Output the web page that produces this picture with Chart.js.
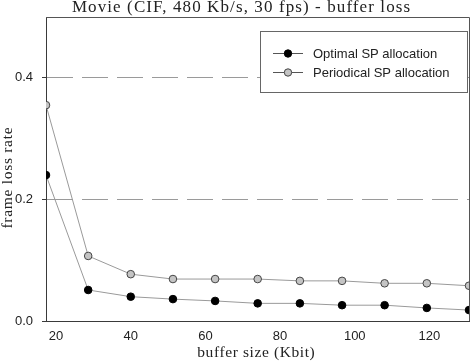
<!DOCTYPE html>
<html>
<head>
<meta charset="utf-8">
<script src="https://cdn.jsdelivr.net/npm/chart.js@4.4.1/dist/chart.umd.min.js"></script>
<style>
  html, body { margin: 0; padding: 0; background: #fff; }
  #wrap { width: 474px; height: 363px; }
</style>
</head>
<body>
<div id="wrap"><canvas id="c"></canvas></div>
<script>
(function(){
  // values
  const bufferSize = [17.3, 28.6, 40, 51.3, 62.6, 74, 85.3, 96.6, 108, 119.3, 130.6];
  const optimal    = [0.240, 0.051, 0.040, 0.036, 0.033, 0.029, 0.029, 0.026, 0.026, 0.0215, 0.018];
  const periodical = [0.355, 0.107, 0.077, 0.069, 0.069, 0.069, 0.066, 0.066, 0.062, 0.062, 0.058];
  const xTicks = [20, 40, 60, 80, 100, 120];
  const yTicks = [0, 0.2, 0.4];

  const chartTitle = 'Movie (CIF, 480 Kb/s, 30 fps) - buffer loss';
  const xTitle = 'buffer size (Kbit)';
  const yTitle = 'frame loss rate';

  const cAxis = '#3a3a3a';
  const cLine = '#9a9a9a';
  const cText = '#222';
  const serif = '"Liberation Serif", "DejaVu Serif", serif';
  const sans  = '"Liberation Sans", Arial, sans-serif';

  const toXY = (ys) => ys.map((y, i) => ({ x: bufferSize[i], y }));

  // spaced-out serif titles, like the original figure
  function spaced(ctx, text, x, y, size, spacing) {
    ctx.font = size + 'px ' + serif;
    ctx.letterSpacing = spacing + 'px';
    const w = ctx.measureText(text).width - spacing;
    ctx.textAlign = 'left';
    ctx.textBaseline = 'middle';
    ctx.fillText(text, x - w / 2, y);
  }

  const titles = {
    id: 'titles',
    afterDraw(chart) {
      const { ctx } = chart;
      ctx.save();
      ctx.fillStyle = cText;
      spaced(ctx, chartTitle, 241, 7.5, 17, 1.1);
      spaced(ctx, xTitle, 256, 353, 15.5, 0.6);
      ctx.translate(8, 178);
      ctx.rotate(-Math.PI / 2);
      spaced(ctx, yTitle, 0, 0, 15.5, 0.7);
      ctx.restore();
    }
  };

  // full box round the plot
  const frame = {
    id: 'frame',
    afterDraw(chart) {
      const { ctx, chartArea: a } = chart;
      ctx.save();
      ctx.strokeStyle = '#555';
      ctx.lineWidth = 1;
      ctx.beginPath();
      ctx.moveTo(a.left, a.top + 0.5);
      ctx.lineTo(a.right + 0.5, a.top + 0.5);
      ctx.lineTo(a.right + 0.5, a.bottom);
      ctx.stroke();
      ctx.restore();
    }
  };

  // boxed legend inside the plot
  const boxLegend = {
    id: 'boxLegend',
    afterDraw(chart) {
      const { ctx } = chart;
      const x0 = 260.5, y0 = 31.5, w = 207, h = 61;
      ctx.save();
      ctx.fillStyle = '#fff';
      ctx.fillRect(x0, y0, w, h);
      ctx.strokeStyle = '#666';
      ctx.lineWidth = 1;
      ctx.strokeRect(x0, y0, w, h);
      chart.data.datasets.forEach((ds, i) => {
        const y = 53 + i * 19;
        ctx.strokeStyle = '#555';
        ctx.beginPath();
        ctx.moveTo(273, y + 0.5);
        ctx.lineTo(303, y + 0.5);
        ctx.stroke();
        ctx.beginPath();
        ctx.arc(288, y + 0.5, 3.7, 0, Math.PI * 2);
        ctx.fillStyle = ds.pointBackgroundColor;
        ctx.fill();
        ctx.strokeStyle = ds.pointBorderColor;
        ctx.stroke();
        ctx.fillStyle = cText;
        ctx.font = '13px ' + sans;
        ctx.textBaseline = 'middle';
        ctx.textAlign = 'left';
        ctx.fillText(ds.label, 313, y + 1);
      });
      ctx.restore();
    }
  };

  new Chart(document.getElementById('c'), {
    type: 'line',
    data: {
      datasets: [{
        label: 'Optimal SP allocation',
        data: toXY(optimal),
        borderColor: cLine,
        borderWidth: 1,
        pointRadius: 3.8,
        pointBackgroundColor: '#000',
        pointBorderColor: '#000',
        pointBorderWidth: 1,
        tension: 0
      }, {
        label: 'Periodical SP allocation',
        data: toXY(periodical),
        borderColor: cLine,
        borderWidth: 1,
        pointRadius: 3.8,
        pointBackgroundColor: '#c4c4c4',
        pointBorderColor: '#444',
        pointBorderWidth: 1,
        tension: 0
      }]
    },
    options: {
      responsive: true,
      maintainAspectRatio: false,
      animation: false,
      layout: { padding: { left: 0, right: 5, top: 17, bottom: 0 } },
      scales: {
        x: {
          type: 'linear',
          min: 17.3,
          max: 130.6,
          afterBuildTicks: (s) => { s.ticks = xTicks.map(v => ({ value: v })); },
          afterFit: (s) => { s.height = 42; },
          grid: { drawOnChartArea: false, drawTicks: false },
          border: { color: cAxis, width: 1 },
          ticks: { color: cText, font: { family: sans, size: 13 }, padding: 8, maxRotation: 0 }
        },
        y: {
          min: 0,
          max: 0.5,
          afterBuildTicks: (s) => { s.ticks = yTicks.map(v => ({ value: v })); },
          afterFit: (s) => { s.width = 46; },
          grid: {
            color: (c) => c.tick && c.tick.value === 0 ? 'rgba(0,0,0,0)' : cLine,
            tickColor: cAxis,
            tickLength: 4,
            tickBorderDash: [],
            lineWidth: 1
          },
          border: { color: cAxis, width: 1, dash: [26, 9] },
          ticks: {
            color: cText,
            font: { family: sans, size: 13 },
            padding: 9,
            callback: (v) => Number(v).toFixed(1)
          }
        }
      },
      plugins: {
        legend: { display: false },
        tooltip: { enabled: false },
        title: { display: false }
      }
    },
    plugins: [frame, boxLegend, titles]
  });
})();
</script>
</body>
</html>
